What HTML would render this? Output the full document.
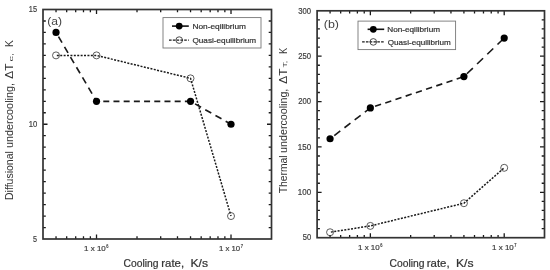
<!DOCTYPE html>
<html><head><meta charset="utf-8"><style>
html,body{margin:0;padding:0;background:#fff;}
svg{display:block;}
text{font-family:"Liberation Sans", "Noto Sans CJK JP", sans-serif;}
</style></head><body>
<svg width="550" height="270" viewBox="0 0 550 270">
<rect width="550" height="270" fill="#fff"/>
<g>
<path d="M56.03 239v-2.8M56.03 9.5v2.8M66.68 239v-2.8M66.68 9.5v2.8M75.69 239v-2.8M75.69 9.5v2.8M83.49 239v-2.8M83.49 9.5v2.8M90.37 239v-2.8M90.37 9.5v2.8M96.52 239v-4.5M96.52 9.5v4.5M137.01 239v-2.8M137.01 9.5v2.8M160.69 239v-2.8M160.69 9.5v2.8M177.49 239v-2.8M177.49 9.5v2.8M190.53 239v-2.8M190.53 9.5v2.8M201.18 239v-2.8M201.18 9.5v2.8M210.18 239v-2.8M210.18 9.5v2.8M217.98 239v-2.8M217.98 9.5v2.8M224.86 239v-2.8M224.86 9.5v2.8M231.01 239v-4.5M231.01 9.5v4.5M43 227.53h2.8M271.5 227.53h-2.8M43 216.05h2.8M271.5 216.05h-2.8M43 204.57h2.8M271.5 204.57h-2.8M43 193.1h2.8M271.5 193.1h-2.8M43 181.62h2.8M271.5 181.62h-2.8M43 170.15h2.8M271.5 170.15h-2.8M43 158.68h2.8M271.5 158.68h-2.8M43 147.2h2.8M271.5 147.2h-2.8M43 135.72h2.8M271.5 135.72h-2.8M43 124.25h4.5M271.5 124.25h-4.5M43 112.77h2.8M271.5 112.77h-2.8M43 101.3h2.8M271.5 101.3h-2.8M43 89.82h2.8M271.5 89.82h-2.8M43 78.35h2.8M271.5 78.35h-2.8M43 66.88h2.8M271.5 66.88h-2.8M43 55.4h2.8M271.5 55.4h-2.8M43 43.93h2.8M271.5 43.93h-2.8M43 32.45h2.8M271.5 32.45h-2.8M43 20.98h2.8M271.5 20.98h-2.8" stroke="#1a1a1a" stroke-width="1.3" fill="none"/>
<rect x="43" y="9.5" width="228.5" height="229.5" fill="none" stroke="#333" stroke-width="1.7"/>
<path d="M58.5 36.65L62.03 42.65M64.5 46.85L68.03 52.85M70.5 57.05L74.03 63.05M76.5 67.25L80.03 73.25M82.5 77.45L86.02 83.45M88.49 87.65L92.02 93.65M94.49 97.85L96.52 101.3L99.07 101.3M103.27 101.3L109.27 101.3M113.47 101.3L119.47 101.3M123.67 101.3L129.67 101.3M133.87 101.3L139.87 101.3M144.07 101.3L150.07 101.3M154.27 101.3L160.27 101.3M164.47 101.3L170.47 101.3M174.67 101.3L180.67 101.3M184.87 101.3L190.53 101.3L190.87 101.49M195.07 103.88L201.07 107.28M205.27 109.66L211.27 113.06M215.47 115.44L221.47 118.84M225.67 121.22L231.01 124.25" fill="none" stroke="#1a1a1a" stroke-width="1.65"/>
<path d="M56.83 55.4L58.83 55.4M60.23 55.4L62.23 55.4M63.63 55.4L65.63 55.4M67.03 55.4L69.03 55.4M70.43 55.4L72.43 55.4M73.83 55.4L75.83 55.4M77.23 55.4L79.23 55.4M80.63 55.4L82.63 55.4M84.03 55.4L86.03 55.4M87.43 55.4L89.43 55.4M90.83 55.4L92.83 55.4M94.23 55.4L96.23 55.4M97.6 55.66L99.54 56.14M100.9 56.47L102.85 56.94M104.21 57.28L106.15 57.75M107.51 58.08L109.45 58.56M110.81 58.89L112.76 59.36M114.12 59.7L116.06 60.17M117.42 60.5L119.36 60.98M120.72 61.31L122.67 61.78M124.03 62.12L125.97 62.59M127.33 62.92L129.27 63.4M130.63 63.73L132.57 64.2M133.93 64.53L135.88 65.01M137.24 65.34L139.18 65.81M140.54 66.15L142.48 66.62M143.84 66.95L145.79 67.43M147.15 67.76L149.09 68.23M150.45 68.57L152.39 69.04M153.75 69.37L155.7 69.85M157.06 70.18L159 70.65M160.36 70.99L162.3 71.46M163.66 71.79L165.6 72.27M166.96 72.6L168.91 73.07M170.27 73.4L172.21 73.88M173.57 74.21L175.51 74.68M176.87 75.02L178.82 75.49M180.18 75.82L182.12 76.3M183.48 76.63L185.42 77.1M186.78 77.44L188.73 77.91M190.09 78.24L190.53 78.35L190.96 79.83M191.36 81.18L191.92 83.1M192.32 84.44L192.88 86.36M193.28 87.7L193.84 89.62M194.24 90.96L194.8 92.88M195.19 94.22L195.76 96.14M196.15 97.49L196.72 99.4M197.11 100.75L197.68 102.67M198.07 104.01L198.64 105.93M199.03 107.27L199.59 109.19M199.99 110.53L200.55 112.45M200.95 113.8L201.51 115.71M201.91 117.06L202.47 118.98M202.87 120.32L203.43 122.24M203.83 123.58L204.39 125.5M204.78 126.84L205.35 128.76M205.74 130.11L206.31 132.02M206.7 133.37L207.27 135.29M207.66 136.63L208.23 138.55M208.62 139.89L209.19 141.81M209.58 143.15L210.14 145.07M210.54 146.41L211.1 148.33M211.5 149.68L212.06 151.6M212.46 152.94L213.02 154.86M213.42 156.2L213.98 158.12M214.38 159.46L214.94 161.38M215.33 162.72L215.9 164.64M216.29 165.99L216.86 167.91M217.25 169.25L217.82 171.17M218.21 172.51L218.78 174.43M219.17 175.77L219.74 177.69M220.13 179.03L220.69 180.95M221.09 182.3L221.65 184.21M222.05 185.56L222.61 187.48M223.01 188.82L223.57 190.74M223.97 192.08L224.53 194M224.93 195.34L225.49 197.26M225.88 198.61L226.45 200.52M226.84 201.87L227.41 203.79M227.8 205.13L228.37 207.05M228.76 208.39L229.33 210.31M229.72 211.65L230.28 213.57M230.68 214.92L231.01 216.05" fill="none" stroke="#1a1a1a" stroke-width="1.5"/>
<circle cx="56.03" cy="32.45" r="3.6" fill="#000"/>
<circle cx="96.52" cy="101.3" r="3.6" fill="#000"/>
<circle cx="190.53" cy="101.3" r="3.6" fill="#000"/>
<circle cx="231.01" cy="124.25" r="3.6" fill="#000"/>
<circle cx="56.03" cy="55.4" r="3.5" fill="none" stroke="#2a2a2a" stroke-width="0.75"/>
<circle cx="96.52" cy="55.4" r="3.5" fill="none" stroke="#2a2a2a" stroke-width="0.75"/>
<circle cx="190.53" cy="78.35" r="3.5" fill="none" stroke="#2a2a2a" stroke-width="0.75"/>
<circle cx="231.01" cy="216.05" r="3.5" fill="none" stroke="#2a2a2a" stroke-width="0.75"/>
<rect x="163" y="17.6" width="98" height="30.4" fill="#fff" stroke="#777" stroke-width="0.9"/>
<path d="M172 26.1H188.8" stroke="#111" stroke-width="1.6"/>
<circle cx="179.2" cy="26.1" r="3.4" fill="#000"/>
<path d="M169 40.1H188.8" stroke="#1a1a1a" stroke-width="1.2" stroke-dasharray="2.6 1.2"/>
<circle cx="179.2" cy="40.1" r="3.3" fill="none" stroke="#222" stroke-width="0.8"/>
<path d="M330.07 237.7v-2.8M330.07 10.8v2.8M340.67 237.7v-2.8M340.67 10.8v2.8M349.63 237.7v-2.8M349.63 10.8v2.8M357.39 237.7v-2.8M357.39 10.8v2.8M364.24 237.7v-2.8M364.24 10.8v2.8M370.36 237.7v-4.5M370.36 10.8v4.5M410.65 237.7v-2.8M410.65 10.8v2.8M434.22 237.7v-2.8M434.22 10.8v2.8M450.95 237.7v-2.8M450.95 10.8v2.8M463.92 237.7v-2.8M463.92 10.8v2.8M474.51 237.7v-2.8M474.51 10.8v2.8M483.48 237.7v-2.8M483.48 10.8v2.8M491.24 237.7v-2.8M491.24 10.8v2.8M498.08 237.7v-2.8M498.08 10.8v2.8M504.21 237.7v-4.5M504.21 10.8v4.5M317.1 228.62h2.8M544.5 228.62h-2.8M317.1 219.55h2.8M544.5 219.55h-2.8M317.1 210.47h2.8M544.5 210.47h-2.8M317.1 201.4h2.8M544.5 201.4h-2.8M317.1 192.32h4.5M544.5 192.32h-4.5M317.1 183.24h2.8M544.5 183.24h-2.8M317.1 174.17h2.8M544.5 174.17h-2.8M317.1 165.09h2.8M544.5 165.09h-2.8M317.1 156.02h2.8M544.5 156.02h-2.8M317.1 146.94h4.5M544.5 146.94h-4.5M317.1 137.86h2.8M544.5 137.86h-2.8M317.1 128.79h2.8M544.5 128.79h-2.8M317.1 119.71h2.8M544.5 119.71h-2.8M317.1 110.64h2.8M544.5 110.64h-2.8M317.1 101.56h4.5M544.5 101.56h-4.5M317.1 92.48h2.8M544.5 92.48h-2.8M317.1 83.41h2.8M544.5 83.41h-2.8M317.1 74.33h2.8M544.5 74.33h-2.8M317.1 65.26h2.8M544.5 65.26h-2.8M317.1 56.18h4.5M544.5 56.18h-4.5M317.1 47.1h2.8M544.5 47.1h-2.8M317.1 38.03h2.8M544.5 38.03h-2.8M317.1 28.95h2.8M544.5 28.95h-2.8M317.1 19.88h2.8M544.5 19.88h-2.8" stroke="#1a1a1a" stroke-width="1.3" fill="none"/>
<rect x="317.1" y="10.8" width="227.4" height="226.9" fill="none" stroke="#333" stroke-width="1.7"/>
<path d="M334.27 135.55L340.27 130.96M344.47 127.74L350.47 123.15M354.67 119.93L360.67 115.34M364.87 112.12L370.36 107.91L370.87 107.74M375.07 106.34L381.07 104.33M385.27 102.92L391.27 100.92M395.47 99.51L401.47 97.5M405.67 96.1L411.67 94.09M415.87 92.68L421.87 90.67M426.07 89.27L432.07 87.26M436.27 85.85L442.27 83.85M446.47 82.44L452.47 80.43M456.67 79.03L462.67 77.02M466.87 73.77L472.87 68.03M477.07 64.01L483.07 58.26M487.27 54.24L493.27 48.5M497.47 44.48L503.47 38.73" fill="none" stroke="#1a1a1a" stroke-width="1.65"/>
<path d="M330.86 232.13L332.84 231.82M334.22 231.6L336.2 231.29M337.58 231.07L339.55 230.76M340.94 230.54L342.91 230.23M344.3 230.01L346.27 229.7M347.65 229.48L349.63 229.17M351.01 228.95L352.99 228.64M354.37 228.42L356.35 228.11M357.73 227.89L359.7 227.58M361.09 227.36L363.06 227.05M364.45 226.83L366.42 226.52M367.8 226.3L369.78 225.99M371.15 225.71L373.09 225.24M374.45 224.91L376.4 224.44M377.76 224.11L379.7 223.64M381.06 223.31L383.01 222.83M384.37 222.5L386.31 222.03M387.67 221.7L389.62 221.23M390.98 220.9L392.92 220.43M394.28 220.1L396.22 219.63M397.58 219.3L399.53 218.83M400.89 218.5L402.83 218.03M404.19 217.7L406.14 217.22M407.5 216.89L409.44 216.42M410.8 216.09L412.74 215.62M414.11 215.29L416.05 214.82M417.41 214.49L419.35 214.02M420.71 213.69L422.66 213.22M424.02 212.89L425.96 212.42M427.32 212.09L429.27 211.62M430.63 211.29L432.57 210.81M433.93 210.48L435.87 210.01M437.23 209.68L439.18 209.21M440.54 208.88L442.48 208.41M443.84 208.08L445.79 207.61M447.15 207.28L449.09 206.81M450.45 206.48L452.39 206.01M453.76 205.68L455.7 205.2M457.06 204.87L459 204.4M460.36 204.07L462.31 203.6M463.67 203.27L463.92 203.21L465.23 202.06M466.28 201.14L467.78 199.82M468.83 198.89L470.34 197.57M471.39 196.65L472.89 195.33M473.94 194.4L475.44 193.08M476.5 192.16L478 190.84M479.05 189.92L480.55 188.6M481.6 187.67L483.11 186.35M484.16 185.43L485.66 184.11M486.71 183.18L488.22 181.86M489.27 180.94L490.77 179.62M491.82 178.7L493.32 177.38M494.38 176.45L495.88 175.13M496.93 174.21L498.43 172.89M499.49 171.96L500.99 170.64M502.04 169.72L503.54 168.4" fill="none" stroke="#1a1a1a" stroke-width="1.5"/>
<circle cx="330.07" cy="138.77" r="3.6" fill="#000"/>
<circle cx="370.36" cy="107.91" r="3.6" fill="#000"/>
<circle cx="463.92" cy="76.6" r="3.6" fill="#000"/>
<circle cx="504.21" cy="38.03" r="3.6" fill="#000"/>
<circle cx="330.07" cy="232.25" r="3.5" fill="none" stroke="#2a2a2a" stroke-width="0.75"/>
<circle cx="370.36" cy="225.9" r="3.5" fill="none" stroke="#2a2a2a" stroke-width="0.75"/>
<circle cx="463.92" cy="203.21" r="3.5" fill="none" stroke="#2a2a2a" stroke-width="0.75"/>
<circle cx="504.21" cy="167.81" r="3.5" fill="none" stroke="#2a2a2a" stroke-width="0.75"/>
<rect x="358" y="21.1" width="97.6" height="28.5" fill="#fff" stroke="#777" stroke-width="0.9"/>
<path d="M367.6 29.3H384.2" stroke="#111" stroke-width="1.6"/>
<circle cx="373.3" cy="29.3" r="3.4" fill="#000"/>
<path d="M362.1 41.9H384.2" stroke="#1a1a1a" stroke-width="1.2" stroke-dasharray="2.6 1.2"/>
<circle cx="373.3" cy="41.9" r="3.3" fill="none" stroke="#222" stroke-width="0.8"/>
</g>
<g>
<text x="28.8" y="11.7" font-size="8.8" fill="#3d3d3d" stroke="#3d3d3d" stroke-width="0.2" textLength="8.2" lengthAdjust="spacingAndGlyphs">15</text>
<text x="28.8" y="126.7" font-size="8.8" fill="#3d3d3d" stroke="#3d3d3d" stroke-width="0.2" textLength="8.5" lengthAdjust="spacingAndGlyphs">10</text>
<text x="33" y="241.8" font-size="8.8" fill="#3d3d3d" stroke="#3d3d3d" stroke-width="0.2" textLength="4" lengthAdjust="spacingAndGlyphs">5</text>
<text x="298.3" y="13.5" font-size="8.4" fill="#3d3d3d" stroke="#3d3d3d" stroke-width="0.2" textLength="12.8" lengthAdjust="spacingAndGlyphs">300</text>
<text x="298.3" y="58.88" font-size="8.4" fill="#3d3d3d" stroke="#3d3d3d" stroke-width="0.2" textLength="12.8" lengthAdjust="spacingAndGlyphs">250</text>
<text x="298.3" y="104.26" font-size="8.4" fill="#3d3d3d" stroke="#3d3d3d" stroke-width="0.2" textLength="12.8" lengthAdjust="spacingAndGlyphs">200</text>
<text x="297.8" y="149.64" font-size="8.4" fill="#3d3d3d" stroke="#3d3d3d" stroke-width="0.2" textLength="13.3" lengthAdjust="spacingAndGlyphs">150</text>
<text x="297.8" y="195.02" font-size="8.4" fill="#3d3d3d" stroke="#3d3d3d" stroke-width="0.2" textLength="13.3" lengthAdjust="spacingAndGlyphs">100</text>
<text x="302.7" y="240.4" font-size="8.4" fill="#3d3d3d" stroke="#3d3d3d" stroke-width="0.2" textLength="8.4" lengthAdjust="spacingAndGlyphs">50</text>
<text x="84.1" y="250.8" font-size="7.6" fill="#3d3d3d" stroke="#3d3d3d" stroke-width="0.2" textLength="21.7" lengthAdjust="spacingAndGlyphs">1 x 10</text>
<text x="106.3" y="247.6" font-size="5" fill="#3d3d3d" stroke="#3d3d3d" stroke-width="0.2" textLength="2.2" lengthAdjust="spacingAndGlyphs">6</text>
<text x="219" y="250.8" font-size="7.6" fill="#3d3d3d" stroke="#3d3d3d" stroke-width="0.2" textLength="21.2" lengthAdjust="spacingAndGlyphs">1 x 10</text>
<text x="240.7" y="247.6" font-size="5" fill="#3d3d3d" stroke="#3d3d3d" stroke-width="0.2" textLength="2.2" lengthAdjust="spacingAndGlyphs">7</text>
<text x="358" y="249.8" font-size="7.6" fill="#3d3d3d" stroke="#3d3d3d" stroke-width="0.2" textLength="21.7" lengthAdjust="spacingAndGlyphs">1 x 10</text>
<text x="380.2" y="246.6" font-size="5" fill="#3d3d3d" stroke="#3d3d3d" stroke-width="0.2" textLength="2.2" lengthAdjust="spacingAndGlyphs">6</text>
<text x="492.1" y="249.8" font-size="7.6" fill="#3d3d3d" stroke="#3d3d3d" stroke-width="0.2" textLength="21.7" lengthAdjust="spacingAndGlyphs">1 x 10</text>
<text x="514.3" y="246.6" font-size="5" fill="#3d3d3d" stroke="#3d3d3d" stroke-width="0.2" textLength="2.2" lengthAdjust="spacingAndGlyphs">7</text>
<text x="47.2" y="24.6" font-size="11" fill="#444" textLength="14.8" lengthAdjust="spacingAndGlyphs">(a)</text>
<text x="323.8" y="27.9" font-size="11" fill="#444" textLength="15.2" lengthAdjust="spacingAndGlyphs">(b)</text>
<text x="192.4" y="28.7" font-size="7.5" fill="#333" stroke="#333" stroke-width="0.2" textLength="53.6" lengthAdjust="spacingAndGlyphs">Non-eqilibrium</text>
<text x="192.4" y="43.2" font-size="7.5" fill="#333" stroke="#333" stroke-width="0.2" textLength="63.8" lengthAdjust="spacingAndGlyphs">Quasi-equilibrium</text>
<text x="387.3" y="32.1" font-size="7.5" fill="#333" stroke="#333" stroke-width="0.2" textLength="52.7" lengthAdjust="spacingAndGlyphs">Non-eqilibrium</text>
<text x="387.8" y="44.7" font-size="7.5" fill="#333" stroke="#333" stroke-width="0.2" textLength="63" lengthAdjust="spacingAndGlyphs">Quasi-equilibrium</text>
<text x="123.6" y="266.6" font-size="10.3" fill="#333" stroke="#333" stroke-width="0.2" textLength="35" lengthAdjust="spacingAndGlyphs">Cooling</text>
<text x="161.3" y="266.6" font-size="10.3" fill="#333" stroke="#333" stroke-width="0.2" textLength="22.8" lengthAdjust="spacingAndGlyphs">rate,</text>
<text x="190.4" y="266.6" font-size="10.3" fill="#333" stroke="#333" stroke-width="0.2" textLength="17.6" lengthAdjust="spacingAndGlyphs">K/s</text>
<text x="389.6" y="266.9" font-size="10.3" fill="#333" stroke="#333" stroke-width="0.2" textLength="35" lengthAdjust="spacingAndGlyphs">Cooling</text>
<text x="426.8" y="266.9" font-size="10.3" fill="#333" stroke="#333" stroke-width="0.2" textLength="22.8" lengthAdjust="spacingAndGlyphs">rate,</text>
<text x="455.9" y="266.9" font-size="10.3" fill="#333" stroke="#333" stroke-width="0.2" textLength="17.6" lengthAdjust="spacingAndGlyphs">K/s</text>
<text transform="translate(13.4,200) rotate(-90)" font-size="10.3" fill="#333" textLength="48.9" lengthAdjust="spacingAndGlyphs">Diffusional</text>
<text transform="translate(13.4,148) rotate(-90)" font-size="10.3" fill="#333" textLength="65" lengthAdjust="spacingAndGlyphs">undercooling,</text>
<text transform="translate(13.4,78.7) rotate(-90)" font-size="10.3" fill="#333" textLength="15.1" lengthAdjust="spacingAndGlyphs">ΔT</text>
<text transform="translate(13.4,61.4) rotate(-90)" font-size="6.2" fill="#333" textLength="8.6" lengthAdjust="spacingAndGlyphs">c,</text>
<text transform="translate(13.4,46.9) rotate(-90)" font-size="10.3" fill="#333" textLength="6.8" lengthAdjust="spacingAndGlyphs">K</text>
<text transform="translate(286.6,193.3) rotate(-90)" font-size="10.3" fill="#333" textLength="37.9" lengthAdjust="spacingAndGlyphs">Thermal</text>
<text transform="translate(286.6,152.9) rotate(-90)" font-size="10.3" fill="#333" textLength="64.2" lengthAdjust="spacingAndGlyphs">undercooling,</text>
<text transform="translate(286.6,83.7) rotate(-90)" font-size="10.3" fill="#333" textLength="15.1" lengthAdjust="spacingAndGlyphs">ΔT</text>
<text transform="translate(286.6,67.5) rotate(-90)" font-size="6.2" fill="#333" textLength="6.8" lengthAdjust="spacingAndGlyphs">T,</text>
<text transform="translate(286.6,54) rotate(-90)" font-size="10.3" fill="#333" textLength="6.2" lengthAdjust="spacingAndGlyphs">K</text>
</g>
</svg>
</body></html>
